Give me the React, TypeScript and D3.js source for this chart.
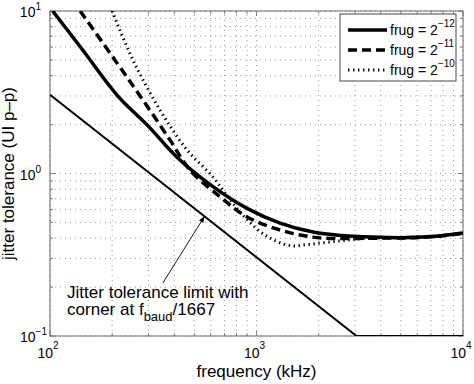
import * as d3 from "d3";

const W = 474;
const H = 384;
const M = { left: 50, right: 11, top: 11, bottom: 48 };

// frequency in kHz, jitter tolerance in UI p-p
const freq12 = [103, 144, 211, 300, 412, 616, 900, 1300, 1880, 2600, 3660, 5000, 6400, 8000, 10000];
const jt12 = [10, 5.75, 3.04, 1.95, 1.26, 0.83, 0.61, 0.495, 0.436, 0.415, 0.406, 0.403, 0.406, 0.415, 0.43];

const freq11 = [140, 211, 282, 381, 476, 665, 900, 1300, 1880, 2600, 3660, 5000, 6400, 8000, 10000];
const jt11 = [10, 4.79, 2.83, 1.61, 1.05, 0.72, 0.54, 0.449, 0.406, 0.398, 0.4, 0.401, 0.405, 0.414, 0.429];

const freq10 = [200, 252, 341, 460, 616, 745, 900, 1125, 1450, 1750, 2100, 2550, 3070, 3660, 4500, 6400, 8000, 10000];
const jt10 = [10, 5.0, 2.46, 1.4, 0.95, 0.69, 0.52, 0.41, 0.36, 0.365, 0.375, 0.385, 0.395, 0.4, 0.402, 0.406, 0.415, 0.43];

const limitFreq = [100, 3050, 10000];
const limitJt = [3.05, 0.1, 0.1];

const seriesLabels = ["−12", "−11", "−10"];

const arrowTail = [352, 0.212];
const arrowTip = [560, 0.545];
const noteAt = [121, 0.172];

const zip = (a: number[], b: number[]) => a.map((v, i) => [v, b[i]] as [number, number]);

export default function App() {
  const x = d3.scaleLog().domain([100, 10000]).range([M.left, W - M.right]);
  const y = d3.scaleLog().domain([0.1, 10]).range([H - M.bottom, M.top]);
  const x0 = M.left, x1 = W - M.right, y0 = H - M.bottom, y1 = M.top;

  const line = d3
    .line<[number, number]>()
    .x((d) => x(d[0]))
    .y((d) => y(d[1]))
    .curve(d3.curveCatmullRom.alpha(0.5));
  const straight = d3
    .line<[number, number]>()
    .x((d) => x(d[0]))
    .y((d) => y(d[1]));

  const xt = x.ticks();
  const yt = y.ticks();
  const isMajor = (v: number) => Math.abs(Math.log10(v) - Math.round(Math.log10(v))) < 1e-6;

  const font = "'Liberation Sans', Arial, Helvetica, sans-serif";
  const styles = [
    { w: 3.5, dash: "" },
    { w: 3.5, dash: "9 5" },
    { w: 3, dash: "1.4 3.6" },
  ];
  const curves = [zip(freq12, jt12), zip(freq11, jt11), zip(freq10, jt10)];

  const ax = x(arrowTail[0]), ay = y(arrowTail[1]);
  const bx = x(arrowTip[0]), by = y(arrowTip[1]);

  return (
    <svg width={W} height={H} style={{ position: "absolute", left: 0, top: 0, background: "#fff" }} fontFamily={font}>
      <defs>
        <clipPath id="plot">
          <rect x={x0} y={y1} width={x1 - x0} height={y0 - y1} />
        </clipPath>
        <marker id="arr" viewBox="0 0 10 10" refX="10" refY="5" markerWidth="7" markerHeight="7" orient="auto">
          <path d="M0,1 L10,5 L0,9 z" fill="#000" />
        </marker>
      </defs>
      <rect width={W} height={H} fill="#fff" />
      {/* grid */}
      <g stroke="#808080" strokeWidth={0.8} strokeDasharray="1 4">
        {xt.map((t) => (
          <line key={"gx" + t} x1={x(t)} x2={x(t)} y1={y0} y2={y1} />
        ))}
        {yt.map((t) => (
          <line key={"gy" + t} y1={y(t)} y2={y(t)} x1={x0} x2={x1} />
        ))}
      </g>
      {/* ticks */}
      <g stroke="#666" strokeWidth={0.8}>
        {xt.map((t) => {
          const l = isMajor(t) ? 5 : 3;
          return (
            <g key={"tx" + t}>
              <line x1={x(t)} x2={x(t)} y1={y0} y2={y0 - l} />
              <line x1={x(t)} x2={x(t)} y1={y1} y2={y1 + l} />
            </g>
          );
        })}
        {yt.map((t) => {
          const l = isMajor(t) ? 5 : 3;
          return (
            <g key={"ty" + t}>
              <line y1={y(t)} y2={y(t)} x1={x0} x2={x0 + l} />
              <line y1={y(t)} y2={y(t)} x1={x1} x2={x1 - l} />
            </g>
          );
        })}
      </g>
      <rect x={x0} y={y1} width={x1 - x0} height={y0 - y1} fill="none" stroke="#666" strokeWidth={1} />

      {/* curves */}
      <g clipPath="url(#plot)" fill="none" stroke="#000">
        <path d={straight(zip(limitFreq, limitJt)) || ""} strokeWidth={2} />
        {curves.map((c, i) => (
          <path key={i} d={line(c) || ""} strokeWidth={styles[i].w} strokeDasharray={styles[i].dash} />
        ))}
      </g>

      {/* tick labels */}
      <g fontSize={14} fill="#000">
        {xt.filter(isMajor).map((t) => (
          <text key={"lx" + t} x={x(t) - 2} y={358} textAnchor="middle">
            10<tspan fontSize={10} dy={-9}>{Math.round(Math.log10(t))}</tspan>
          </text>
        ))}
        {yt.filter(isMajor).map((t) => {
          const e = Math.round(Math.log10(t));
          return (
            <text key={"ly" + t} x={e < 0 ? 47 : 41} y={y(t) + 6} textAnchor="end">
              10<tspan fontSize={10} dy={-7}>{e < 0 ? "−" + -e : e}</tspan>
            </text>
          );
        })}
      </g>

      {/* axis labels */}
      <text x={(x0 + x1) / 2} y={377} textAnchor="middle" fontSize={17}>
        frequency (kHz)
      </text>
      <text transform={`translate(14,${(y0 + y1) / 2}) rotate(-90)`} textAnchor="middle" fontSize={17}>
        jitter tolerance (UI p–p)
      </text>

      {/* annotation */}
      <line x1={ax} y1={ay} x2={bx} y2={by} stroke="#000" strokeWidth={0.9} markerEnd="url(#arr)" />
      <text x={x(noteAt[0])} y={y(noteAt[1])} fontSize={17}>
        Jitter tolerance limit with
      </text>
      <text x={x(noteAt[0])} y={y(noteAt[1]) + 17} fontSize={17}>
        corner at f<tspan fontSize={13} dy={6}>baud</tspan>
        <tspan dy={-6}>/1667</tspan>
      </text>

      {/* legend */}
      <g>
        <rect x={340} y={14} width={116} height={67} fill="#fff" stroke="#333" strokeWidth={0.9} />
        {seriesLabels.map((s, i) => {
          const ly = 30 + i * 20;
          return (
            <g key={s}>
              <line x1={348} x2={387} y1={ly} y2={ly} stroke="#000" strokeWidth={styles[i].w} strokeDasharray={styles[i].dash} />
              <text x={390} y={ly + 5} fontSize={14}>
                frug = 2<tspan fontSize={10} dy={-8}>{s}</tspan>
              </text>
            </g>
          );
        })}
      </g>
    </svg>
  );
}
